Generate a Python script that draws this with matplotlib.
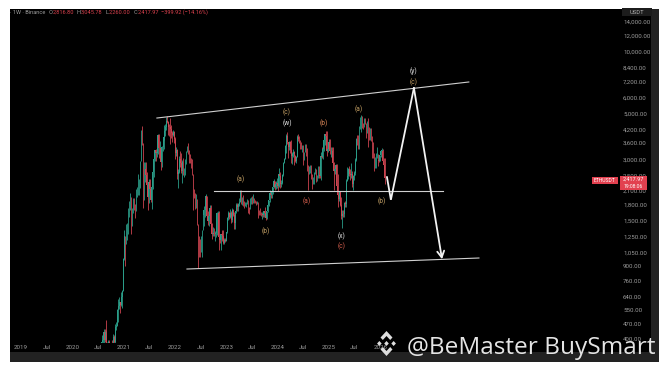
import matplotlib
matplotlib.use("Agg")
import matplotlib.pyplot as plt
import matplotlib.dates as mdates
from matplotlib.patches import Rectangle, Polygon
from matplotlib.ticker import NullLocator, NullFormatter
import pandas as pd
import numpy as np

# ---------------- data (weekly ETH/USDT candles) ----------------
first_week = "2020-07-20"
first_open = 238

close_2020 = [310, 386, 395, 430, 395, 430, 335, 375, 385, 355, 350, 375, 365, 405, 385, 455, 460, 550, 575, 600, 585, 640, 685, 975]
high_2020 = [330, 415, 405, 445, 445, 440, 490, 385, 395, 395, 370, 380, 395, 420, 415, 470, 480, 560, 625, 635, 600, 675, 690, 990]
low_2020 = [236, 305, 370, 375, 385, 370, 315, 330, 360, 310, 335, 335, 360, 360, 370, 370, 440, 460, 480, 560, 530, 575, 565, 680]

close_2021 = [1260, 1230, 1235, 1370, 1610, 1780, 1935, 1450, 1730, 1930, 1780, 1690, 2080, 2140, 2240, 2310, 2950, 3900, 3580, 2280,
              2420, 2700, 2500, 2240, 1970, 2320, 2140, 1900, 2190, 2610, 3010, 3310, 3225, 3230, 3940, 3400, 3400, 2920, 3420, 3420,
              3850, 4100, 4290, 4610, 4570, 4300, 4290, 4200, 4015, 3920, 4050, 3770]
high_2021 = [1350, 1260, 1440, 1470, 1740, 1870, 2040, 1960, 1740, 1940, 1880, 1810, 2150, 2200, 2550, 2400, 2950, 4180, 4370, 3600,
             2900, 2900, 2890, 2600, 2300, 2400, 2400, 2150, 2240, 2620, 3180, 3330, 3350, 3380, 3980, 3970, 3680, 3450, 3480, 3650,
             3950, 4380, 4460, 4820, 4870, 4580, 4450, 4780, 4400, 4100, 4150, 4100]
low_2021 = [965, 900, 1160, 1210, 1300, 1560, 1700, 1300, 1410, 1640, 1700, 1550, 1680, 1950, 2000, 2000, 2160, 2940, 3520, 1730,
            1900, 2320, 2300, 2000, 1700, 1830, 2050, 1850, 1720, 2150, 2450, 2940, 2950, 3080, 3160, 3030, 3310, 2650, 2750, 3280,
            3370, 3710, 3900, 4180, 4500, 3950, 3900, 3550, 3800, 3640, 3900, 3590]

close_2022 = [3200, 3330, 2540, 2600, 3010, 2880, 2630, 2920, 2570, 2580, 2950, 3290, 3450, 3190, 3000, 2920, 2830, 2520, 2060, 1970,
              1800, 1800, 1450, 1150, 1140, 1070, 1230, 1355, 1600, 1685, 1690, 1990, 1580, 1490, 1575, 1730, 1440, 1290, 1310, 1290,
              1300, 1310, 1630, 1630, 1250, 1215, 1295, 1280, 1265, 1170, 1215, 1200]
high_2022 = [3850, 3420, 3350, 2700, 3100, 3280, 3200, 2980, 3050, 2720, 3000, 3300, 3480, 3580, 3320, 3180, 3030, 3000, 2540, 2150,
             2050, 2020, 1910, 1450, 1260, 1220, 1260, 1360, 1640, 1780, 1720, 2030, 1960, 1680, 1630, 1790, 1790, 1460, 1400, 1380,
             1340, 1350, 1660, 1680, 1680, 1290, 1300, 1310, 1350, 1350, 1240, 1230]
low_2022 = [3000, 3100, 2410, 2160, 2580, 2750, 2570, 2300, 2520, 2450, 2500, 2850, 3250, 3180, 2880, 2880, 2730, 2500, 1700, 1940,
            1720, 1740, 1430, 880, 1000, 1000, 1060, 1000, 1350, 1420, 1560, 1680, 1580, 1430, 1420, 1520, 1420, 1220, 1270, 1270,
            1190, 1250, 1280, 1510, 1080, 1170, 1075, 1200, 1220, 1150, 1160, 1180]

close_2023 = [1320, 1555, 1630, 1570, 1630, 1515, 1690, 1600, 1470, 1670, 1790, 1750, 1820, 1860, 2090, 1850, 1870, 1845, 1800, 1815,
              1830, 1890, 1745, 1730, 1875, 1955, 1870, 1935, 1890, 1855, 1830, 1850, 1680, 1650, 1630, 1615, 1625, 1595, 1670, 1635,
              1555, 1670, 1785, 1890, 2050, 2015, 2085, 2195, 2350, 2195, 2265, 2290]
high_2023 = [1330, 1560, 1680, 1660, 1720, 1680, 1740, 1720, 1660, 1680, 1840, 1840, 1830, 1940, 2130, 2120, 1960, 2000, 1870, 1860,
             1860, 1920, 1900, 1760, 1930, 1960, 1980, 2020, 1920, 1890, 1880, 1870, 1860, 1700, 1740, 1660, 1660, 1680, 1680, 1750,
             1640, 1680, 1860, 1900, 2120, 2090, 2130, 2200, 2410, 2350, 2340, 2440]
low_2023 = [1190, 1310, 1520, 1530, 1550, 1460, 1480, 1580, 1370, 1370, 1640, 1680, 1680, 1780, 1860, 1810, 1790, 1780, 1740, 1780,
            1760, 1820, 1630, 1620, 1720, 1820, 1820, 1840, 1840, 1830, 1800, 1810, 1550, 1600, 1610, 1590, 1530, 1570, 1570, 1620,
            1520, 1530, 1660, 1770, 1860, 1930, 1930, 2030, 2180, 2130, 2140, 2180]

close_2024 = [2220, 2530, 2470, 2265, 2290, 2500, 2880, 2990, 3490, 3880, 3640, 3450, 3650, 3310, 3110, 3160, 3250, 3110, 2935, 3070,
              3830, 3780, 3700, 3565, 3420, 3435, 2985, 3245, 3505, 3270, 2690, 2590, 2610, 2750, 2425, 2275, 2420, 2580, 2655, 2440,
              2460, 2750, 2510, 2470, 3120, 3070, 3370, 3710, 3990, 3870, 3280, 3350, 3640]
high_2024 = [2410, 2720, 2610, 2490, 2380, 2530, 2890, 3030, 3520, 3990, 4090, 3600, 3680, 3660, 3730, 3240, 3360, 3270, 3130, 3100,
             3940, 3970, 3890, 3700, 3630, 3500, 3520, 3260, 3560, 3560, 3400, 2810, 2790, 2820, 2800, 2550, 2460, 2590, 2730, 2670,
             2520, 2770, 2770, 2720, 3250, 3450, 3500, 3740, 4000, 4110, 4110, 3500, 3750]
low_2024 = [2100, 2190, 2400, 2160, 2200, 2270, 2480, 2860, 3070, 3200, 3560, 3050, 3320, 3210, 2870, 2850, 3070, 2820, 2900, 2860,
            3100, 3680, 3600, 3360, 3360, 3240, 2810, 2960, 3240, 3090, 2630, 2110, 2550, 2560, 2400, 2150, 2270, 2270, 2530, 2310,
            2350, 2430, 2430, 2430, 2360, 3050, 3020, 3300, 3500, 3520, 3100, 3260, 3330]

close_2025 = [3270, 3300, 3290, 2870, 2630, 2690, 2800, 2220, 2015, 1910, 2085, 1800, 1580, 1620, 1615, 1840, 1810, 2345, 2470, 2680,
              2530, 2510, 2540, 2280, 2490, 2575, 2970, 3755, 3745, 3490, 4250, 4480, 4780, 4390, 4310, 4610, 4470, 4030, 4510, 4150,
              3890, 4150, 3890, 3420, 3090, 2770, 3020, 3110, 3120, 2970, 2950, 3130]
high_2025 = [3750, 3450, 3440, 3430, 2900, 2790, 2850, 2850, 2550, 2000, 2100, 2100, 1950, 1690, 1690, 1850, 1880, 2400, 2740, 2730,
             2790, 2680, 2880, 2620, 2520, 2620, 3050, 3800, 3940, 3940, 4340, 4790, 4950, 4850, 4490, 4770, 4770, 4480, 4580, 4750,
             4290, 4250, 4250, 3900, 3650, 3200, 3060, 3200, 3450, 3180, 3050, 3150]
low_2025 = [3160, 3060, 3130, 2750, 2120, 2550, 2600, 2080, 1990, 1750, 1870, 1780, 1530, 1385, 1560, 1560, 1750, 1750, 2400, 2400,
            2490, 2380, 2440, 2200, 2110, 2370, 2500, 2940, 3500, 3360, 3360, 4200, 4060, 4260, 4210, 4280, 4440, 3820, 4050, 3435,
            3700, 3700, 3680, 3050, 3050, 2620, 2720, 2720, 3050, 2780, 2900, 2930]

close_2026 = [3300, 3300, 2950, 2818, 2418]
high_2026 = [3310, 3400, 3350, 3050, 3046]
low_2026 = [3060, 3200, 2880, 2700, 2260]

# annotation drawing (date, price)
upper_channel = [("2021-08-25", 4760), ("2027-09-24", 7135)]
lower_channel = [("2022-03-27", 873), ("2027-12-05", 988)]
mid_level = [("2022-10-05", 2097), ("2027-03-23", 2097)]
projection = [("2026-02-18", 2450), ("2026-03-18", 1900), ("2026-08-29", 6670), ("2027-03-17", 975)]

wave_labels = [  # text, date, price, colour
    ("(a)", "2023-04-16", 2400, "#c9a467"),
    ("(b)", "2023-10-11", 1338, "#c9a467"),
    ("(c)", "2024-03-08", 5093, "#c9a467"),
    ("(w)", "2024-03-08", 4501, "#e6e6e6"),
    ("(b)", "2024-11-27", 4501, "#e08a5a"),
    ("(a)", "2024-07-29", 1874, "#d9604e"),
    ("(x)", "2025-03-29", 1265, "#e6e6e6"),
    ("(c)", "2025-03-29", 1130, "#d9604e"),
    ("(a)", "2025-08-04", 5267, "#c9a467"),
    ("(b)", "2026-01-14", 1874, "#c9a467"),
    ("(y)", "2026-08-29", 8072, "#e6e6e6"),
    ("(c)", "2026-08-29", 7135, "#c9a467"),
]

price_ticks = [14000, 12000, 10000, 8400, 7200, 6000, 5000, 4200, 3600, 3000, 2500, 2100,
               1800, 1500, 1250, 1050, 900, 760, 640, 550, 470, 400]
time_ticks = ["2019-01-01", "2019-07-01", "2020-01-01", "2020-07-01", "2021-01-01", "2021-07-01",
              "2022-01-01", "2022-07-01", "2023-01-01", "2023-07-01", "2024-01-01", "2024-07-01",
              "2025-01-01", "2025-07-01", "2026-01-01"]
time_labels = ["2019", "Jul", "2020", "Jul", "2021", "Jul", "2022", "Jul", "2023", "Jul", "2024", "Jul",
               "2025", "Jul", "2026"]

# header pieces: text, colour, gap before (points)
header_parts = [("· 1W · Binance", "#9a9a9a", 0), ("O", "#9a9a9a", 2.0), ("2,816.80", "#d9404d", 0.2),
                ("H", "#9a9a9a", 2.0), ("3,045.78", "#d9404d", 0.2), ("L", "#9a9a9a", 2.0),
                ("2,260.00", "#d9404d", 0.2), ("C", "#9a9a9a", 2.0), ("2,417.97", "#d9404d", 0.2),
                ("−399.92 (−14.16%)", "#d9404d", 2.0)]

# ---------------- build candles ----------------
closes = close_2020 + close_2021 + close_2022 + close_2023 + close_2024 + close_2025 + close_2026
highs = high_2020 + high_2021 + high_2022 + high_2023 + high_2024 + high_2025 + high_2026
lows = low_2020 + low_2021 + low_2022 + low_2023 + low_2024 + low_2025 + low_2026
opens = [first_open] + closes[:-1]
dates = pd.date_range(first_week, periods=len(closes), freq="7D")
d = mdates.date2num(dates.to_pydatetime())
o = np.array(opens, float); c = np.array(closes, float)
h = np.maximum(np.array(highs, float), np.maximum(o, c))
l = np.minimum(np.array(lows, float), np.minimum(o, c))
up = c >= o
cols = np.where(up, "#2a9c88", "#cc4450")

# ---------------- figure ----------------
W, H = 667, 372
fig = plt.figure(figsize=(W / 100, H / 100), dpi=100, facecolor="white")

def P(x, y):
    return (x / W, 1 - y / H)

def rect(x0, y0, x1, y1, color, z=-5):
    r = Rectangle(P(x0, y1), (x1 - x0) / W, (y1 - y0) / H, transform=fig.transFigure,
                  facecolor=color, edgecolor="none", zorder=z)
    fig.add_artist(r)

rect(10, 9, 659, 362, "#000000", -6)
rect(10, 352, 659, 362, "#222222", -5)
rect(651, 9, 659, 362, "#222222", -5)

ax = fig.add_axes([10 / W, 1 - 343 / H, 607 / W, 334 / H])
ax.set_facecolor("black")
ax.set_yscale("log")
ax.set_xlim(mdates.datestr2num("2018-10-14"), mdates.datestr2num("2030-08-14"))
ax.set_ylim(380.3, 16197)
for s in ax.spines.values():
    s.set_visible(False)

ax.vlines(d, l, h, colors=cols, lw=0.6, zorder=2)
ax.bar(d, np.maximum(np.abs(c - o), c * 0.004), bottom=np.minimum(o, c), width=4.6,
       color=cols, edgecolor="none", zorder=3)

def seg(points, **kw):
    xs = [mdates.datestr2num(p[0]) for p in points]
    ys = [p[1] for p in points]
    ax.plot(xs, ys, **kw)
    return xs, ys

seg(upper_channel, color="#d0d0d0", lw=0.8, zorder=4)
seg(lower_channel, color="#d0d0d0", lw=0.8, zorder=4)
seg(mid_level, color="#d0d0d0", lw=0.8, zorder=4)
xs, ys = seg(projection[:-1], color="#f2f2f2", lw=1.3, zorder=5, solid_joinstyle="miter")
ax.annotate("", xy=(mdates.datestr2num(projection[-1][0]), projection[-1][1]),
            xytext=(xs[-1], ys[-1]),
            arrowprops=dict(arrowstyle="->,head_length=0.45,head_width=0.25", color="#f2f2f2", lw=1.3,
                            shrinkA=0, shrinkB=0), zorder=5)

for txt, dt_, pr, colr in wave_labels:
    ax.text(mdates.datestr2num(dt_), pr, txt, color=colr, fontsize=4.8, ha="center", va="center",
            family="Roboto", zorder=6)

# axes ticks
ax.yaxis.tick_right()
ax.set_yticks(price_ticks)
ax.set_yticklabels([f"{v:,.2f}" for v in price_ticks])
ax.yaxis.set_minor_locator(NullLocator())
ax.yaxis.set_minor_formatter(NullFormatter())
ax.tick_params(axis="y", length=0, pad=4.4, labelsize=4.4, labelcolor="#9d9d9d")
ax.set_xticks([mdates.datestr2num(t) for t in time_ticks])
ax.set_xticklabels(time_labels)
ax.tick_params(axis="x", length=0, pad=1.5, labelsize=4.4, labelcolor="#9d9d9d")
for lab in ax.get_xticklabels() + ax.get_yticklabels():
    lab.set_family("Roboto")

# header, laid out piece after piece
prev = None
for txt, colr, gap in header_parts:
    if prev is None:
        prev = fig.text(*P(10, 12.5), txt, color=colr, fontsize=4.1, family="Roboto",
                        va="center", ha="left")
    else:
        prev = ax.annotate(txt, xy=(1, 0.5), xycoords=prev, xytext=(gap, 0),
                           textcoords="offset points", color=colr, fontsize=4.1, family="Roboto",
                           va="center", ha="left", annotation_clip=False)

# USDT tag
rect(622, 8, 652, 16, "#1c1c1c", 2)
fig.text(*P(637, 12), "USDT", color="#b0b0b0", fontsize=4.2, family="Roboto", ha="center", va="center", zorder=3)

# current price tags
rect(592, 177, 618, 184, "#e2404f", 2)
fig.text(*P(605, 180.5), "ETHUSDT", color="white", fontsize=3.6, family="Roboto", ha="center", va="center", zorder=3)
rect(620, 176, 647, 190, "#e2404f", 2)
fig.text(*P(633.5, 179.5), "2,417.97", color="white", fontsize=4.0, family="Roboto", ha="center", va="center", zorder=3)
fig.text(*P(633.5, 186), "19:08:06", color="white", fontsize=3.6, family="Roboto", ha="center", va="center", zorder=3)

# Binance logo
cx, cy, sx, sy = 386.5, 343.5, 11.5, 12.5
def logo_poly(pts):
    verts = [P(cx + px * sx, cy - py * sy) for px, py in pts]
    fig.add_artist(Polygon(verts, closed=True, transform=fig.transFigure, facecolor="#dedede",
                           edgecolor="none", zorder=8))
for ox in (-0.62, 0.0, 0.62):
    logo_poly([(ox, 0.2), (ox + 0.2, 0), (ox, -0.2), (ox - 0.2, 0)])
logo_poly([(0, 1), (0.52, 0.48), (0.32, 0.28), (0, 0.6), (-0.32, 0.28), (-0.52, 0.48)])
logo_poly([(0, -1), (0.52, -0.48), (0.32, -0.28), (0, -0.6), (-0.32, -0.28), (-0.52, -0.48)])

# watermark
fig.text(*P(407, 354), "@BeMaster BuySmart", color="#e4e4e4", fontsize=17.6, family="Open Sans",
         ha="left", va="baseline", zorder=8)

fig.savefig("out.png", dpi=100, facecolor="white")
